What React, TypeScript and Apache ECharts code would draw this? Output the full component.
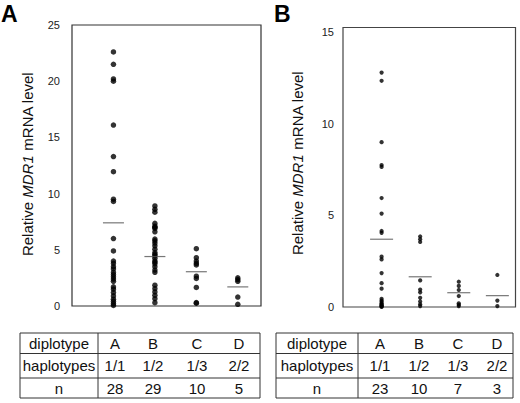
import React, { useEffect, useRef } from "react";
import * as echarts from "echarts";

// diplotype categories and table rows
const diplotypes = ["A", "B", "C", "D"];
const haplotypes = ["1/1", "1/2", "1/3", "2/2"];
const nA = [28, 29, 10, 5];
const nB = [23, 10, 7, 3];

// panel A: relative MDR1 mRNA level per diplotype
const aDipA = [22.6, 21.5, 20.2, 20.0, 16.1, 13.3, 11.95, 9.5, 9.3, 6.0, 4.9, 4.0, 3.8, 3.5, 3.3, 3.0, 2.8, 2.6, 2.4, 2.2, 1.7, 1.5, 1.2, 0.9, 0.6, 0.4, 0.2, 0.05];
const aDipB = [8.9, 8.6, 8.35, 7.35, 7.1, 7.0, 6.9, 6.6, 5.95, 5.8, 5.6, 5.35, 5.05, 4.75, 4.6, 4.45, 4.25, 4.0, 3.9, 3.75, 3.5, 3.2, 3.0, 1.85, 1.55, 1.25, 0.95, 0.65, 0.3];
const aDipC = [5.1, 4.3, 4.0, 3.8, 3.65, 2.65, 2.45, 1.65, 0.3, 0.25];
const aDipD = [2.5, 2.35, 2.2, 0.8, 0.15];
const meansA = [7.4, 4.4, 3.05, 1.7];

// panel B
const bDipA = [12.8, 12.35, 9.0, 7.75, 7.65, 5.95, 5.1, 4.15, 4.05, 2.75, 2.6, 1.85, 1.3, 1.0, 0.45, 0.35, 0.28, 0.2, 0.14, 0.1, 0.06, 0.03, 0.0];
const bDipB = [3.85, 3.7, 3.55, 1.45, 0.95, 0.8, 0.5, 0.3, 0.15, 0.05];
const bDipC = [1.38, 1.15, 0.93, 0.6, 0.2, 0.12, 0.05];
const bDipD = [1.75, 0.35, 0.05];
const meansB = [3.7, 1.65, 0.78, 0.62];

const FONT = "Liberation Sans, Arial, sans-serif";

const toPoints = (cols: number[][]) =>
  cols.flatMap((col, i) => col.map((v) => [i + 1, v]));

const axisTitle = (x: number, y: number) => ({
  type: "text",
  x,
  y,
  rotation: Math.PI / 2,
  style: {
    text: "{n|Relative }{i|MDR1}{n| mRNA level}",
    align: "center",
    verticalAlign: "middle",
    fill: "#111",
    rich: {
      n: { fontSize: 15, fontFamily: FONT, fill: "#111" },
      i: { fontSize: 15, fontFamily: FONT, fontStyle: "italic", fill: "#111" },
    },
  },
});

// simple 3-row table drawn with graphic elements
const table = (
  left: number,
  right: number,
  divider: number,
  colX: number[],
  counts: number[]
) => {
  const rows = [333, 353.5, 378, 398];
  const els: any[] = [
    {
      type: "rect",
      shape: { x: left, y: rows[0], width: right - left, height: rows[3] - rows[0] },
      style: { fill: "none", stroke: "#333", lineWidth: 1 },
    },
    {
      type: "line",
      shape: { x1: left, y1: rows[1], x2: right, y2: rows[1] },
      style: { stroke: "#333", lineWidth: 1 },
    },
    {
      type: "line",
      shape: { x1: left, y1: rows[2], x2: right, y2: rows[2] },
      style: { stroke: "#333", lineWidth: 1 },
    },
    {
      type: "line",
      shape: { x1: divider, y1: rows[0], x2: divider, y2: rows[3] },
      style: { stroke: "#333", lineWidth: 1 },
    },
  ];
  const labelX = (left + divider) / 2;
  const heads = ["diplotype", "haplotypes", "n"];
  const cells = [diplotypes, haplotypes, counts.map(String)];
  heads.forEach((h, r) => {
    const cy = (rows[r] + rows[r + 1]) / 2;
    els.push({
      type: "text",
      x: labelX,
      y: cy,
      style: { text: h, fontSize: 15, fontFamily: FONT, fill: "#111", align: "center", verticalAlign: "middle" },
    });
    cells[r].forEach((t, c) => {
      els.push({
        type: "text",
        x: colX[c],
        y: cy,
        style: { text: t, fontSize: 15, fontFamily: FONT, fill: "#111", align: "center", verticalAlign: "middle" },
      });
    });
  });
  return els;
};

const App = () => {
  const chartRef = useRef<HTMLDivElement>(null);

  useEffect(() => {
    const chart = echarts.init(chartRef.current, null, { renderer: "svg" });

    const yLabel = (margin: number) => ({
      fontSize: 11,
      fontFamily: FONT,
      color: "#222",
      margin,
      formatter: (v: number) => (v % 5 === 0 ? String(v) : ""),
    });

    const option = {
      animation: false,
      backgroundColor: "#fff",
      grid: [
        { left: 72, top: 25, width: 189, height: 281, show: true, borderColor: "#333", borderWidth: 1.2 },
        { left: 343, top: 27.5, width: 172.5, height: 279.5, show: true, borderColor: "#444", borderWidth: 1.2 },
      ],
      xAxis: [
        { type: "value", gridIndex: 0, min: 0, max: 4.56, show: false },
        { type: "value", gridIndex: 1, min: 0, max: 4.47, show: false },
      ],
      yAxis: [
        {
          type: "value",
          gridIndex: 0,
          min: 0,
          max: 25,
          interval: 5,
          splitLine: { show: false },
          axisLine: { show: false },
          axisTick: { show: false },
          axisLabel: yLabel(12),
        },
        {
          type: "value",
          gridIndex: 1,
          min: 0,
          max: 15.26,
          interval: 5,
          splitLine: { show: false },
          axisLine: { show: false },
          axisTick: { show: false },
          axisLabel: yLabel(9),
        },
      ],
      series: [
        {
          type: "scatter",
          xAxisIndex: 0,
          yAxisIndex: 0,
          symbolSize: 5.5,
          itemStyle: { color: "#000" },
          data: toPoints([aDipA, aDipB, aDipC, aDipD]),
        },
        {
          type: "scatter",
          xAxisIndex: 0,
          yAxisIndex: 0,
          symbol: "rect",
          symbolSize: [21, 1.2],
          itemStyle: { color: "#555" },
          data: meansA.map((v, i) => [i + 1, v]),
        },
        {
          type: "scatter",
          xAxisIndex: 1,
          yAxisIndex: 1,
          symbolSize: 4.2,
          itemStyle: { color: "#000" },
          data: toPoints([bDipA, bDipB, bDipC, bDipD]),
        },
        {
          type: "scatter",
          xAxisIndex: 1,
          yAxisIndex: 1,
          symbol: "rect",
          symbolSize: [23, 1.2],
          itemStyle: { color: "#555" },
          data: meansB.map((v, i) => [i + 1, v]),
        },
      ],
      graphic: [
        {
          type: "text",
          x: 1,
          y: 14,
          style: { text: "A", fontSize: 23, fontWeight: "bold", fontFamily: FONT, fill: "#000", verticalAlign: "middle" },
        },
        {
          type: "text",
          x: 274,
          y: 14,
          style: { text: "B", fontSize: 23, fontWeight: "bold", fontFamily: FONT, fill: "#000", verticalAlign: "middle" },
        },
        axisTitle(27, 164),
        axisTitle(297, 163),
        ...table(20, 260, 98, [115, 153, 197, 239], nA),
        ...table(276, 513, 358, [380, 419, 458, 497], nB),
      ],
    };

    chart.setOption(option);

    return () => {
      chart.dispose();
    };
  }, []);

  return (
    <div
      ref={chartRef}
      style={{ position: "fixed", left: 0, top: 0, width: "520px", height: "403px" }}
    ></div>
  );
};

export default App;
